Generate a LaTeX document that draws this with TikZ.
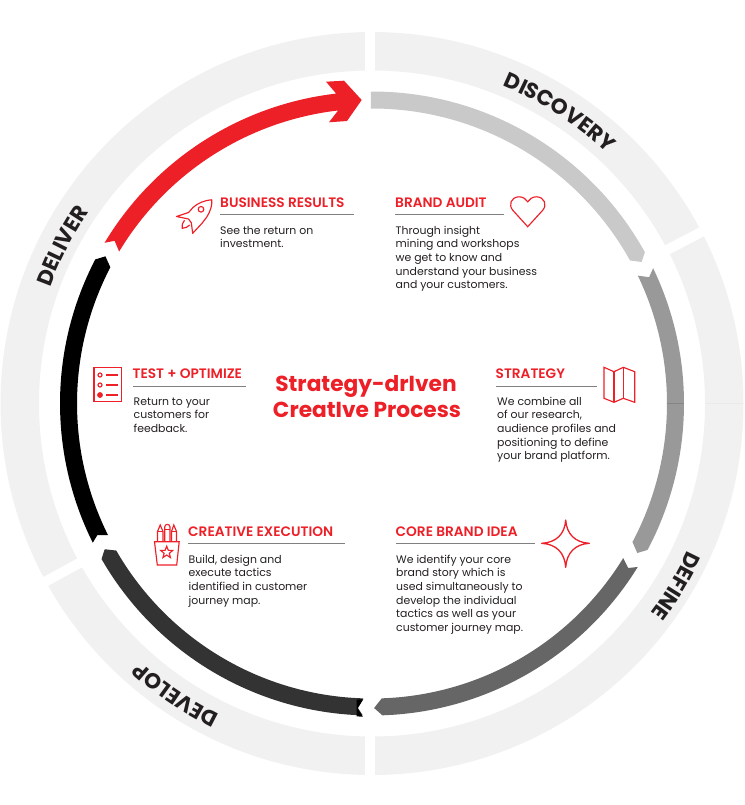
\documentclass[tikz,border=0pt]{standalone}
\usepackage{fontspec}
\usetikzlibrary{decorations.text}
\setmainfont{Poppins}
\newfontfamily\headf{Poppins SemiBold}
\newfontfamily\boldf{Poppins Bold}
\definecolor{brandred}{HTML}{ED1F27}
\definecolor{ringgray}{HTML}{F1F1F1}
\definecolor{inktext}{HTML}{231F20}
\definecolor{rulegray}{HTML}{808080}
\tikzset{
  x=1pt,y=1pt,
  headtxt/.style={anchor=base west,inner sep=0pt,text=brandred,font=\headf\fontsize{13.7}{15}\selectfont},
  bodytxt/.style={anchor=north west,inner sep=0pt,align=left,text=inktext,font=\fontsize{10.9}{13.6}\selectfont},
  titletxt/.style={anchor=base,inner sep=0pt,text=brandred,font=\boldf\fontsize{21.7}{26}\selectfont},
  rulerline/.style={draw=rulegray,line width=1pt},
  iconline/.style={draw=brandred,line width=1.15pt,line join=miter,fill=none},
  gapline/.style={draw=white,line width=10pt},
}
\newcommand{\bandseg}[5]{\fill[#1] (#2:312pt) arc[start angle=#2,end angle=#3,radius=312pt] -- (#5:304.5pt) -- (#3:295pt) arc[start angle=#3,end angle=#2,radius=295pt] -- (#4:304.5pt) -- cycle;}
\newcommand{\ringlabel}[4]{\path[decorate,decoration={text along path,text align={center},text={|\boldf\fontsize{21.5}{23}\selectfont\color{inktext}|#3}}] (#1:#4pt) arc[start angle=#1,end angle=#2,radius=#4pt];}
\begin{document}
\begin{tikzpicture}
\useasboundingbox (0,0) rectangle (744,-805);
% outer ring
\begin{scope}[shift={(372,-403.5)}]
  \draw[ringgray,line width=38.5pt] (0,0) circle[radius=352.25pt];
  \draw[gapline] (-2,-325) -- (-2,-380);
  \draw[gapline] (-2,325) -- (-2,380);
  \draw[gapline] (27.5:325pt) -- (27.5:385pt);
  \draw[gapline] (208.6:325pt) -- (208.6:385pt);
  \draw[draw=ringgray!97!black,line width=0.4pt] (0:333pt) -- (0:371pt);
  % ring labels
  \ringlabel{87}{27.5}{DISCOVERY}{343.5}
  \ringlabel{-1}{-61}{DEFINE}{348.5}
  \ringlabel{266}{206}{DEVELOP}{346.5}
  \ringlabel{183}{123}{DELIVER}{342}
  % inner bands
  \bandseg{black!21}{90.2}{29}{90.2}{27.7}
  \bandseg{black!40}{25.7}{-28}{24.5}{-29.4}
  \draw[black!48,line width=0.5pt] (0:295pt) -- (0:312pt);
  \bandseg{black!60}{-31.6}{-88.1}{-32.7}{-89.6}
  \bandseg{black!80}{-91.7}{-150.1}{-92.7}{-151.4}
  \bandseg{black}{-153.5}{-207.5}{-154.4}{-208.9}
  % red arrow
  \fill[brandred] (149:312pt) arc[start angle=149,end angle=96.6,radius=312pt]
     -- (-46,321.8) -- (-28,322.8) -- (-10.3,303.5) -- (-25,282.5) -- (-43,281.2)
     -- (96.6:295pt) arc[start angle=96.6,end angle=149,radius=295pt]
     -- (147.7:304.5pt) -- cycle;
\end{scope}
\fill[black] (356.7,-699.6) -- (363.3,-699.3) -- (357.7,-708.3) -- (362.7,-716.8) -- (356.7,-716.3) -- cycle;
% title
\node[titletxt] (title1) at (366,-391.5) {Strategy-drIven};
\node[titletxt] (title2) at (367,-417) {CreatIve Process};
% business results
\node[headtxt] (hbus) at (220,-207.5) {BUSINESS RESULTS};
\draw[rulerline] (220,-214.5) -- (354,-214.5);
\node[bodytxt] (bbus) at (220,-224.5) {\strut See the return on\\investment.};
% brand audit
\node[headtxt] (hbra) at (395,-207.5) {BRAND AUDIT};
\draw[rulerline] (395,-214.8) -- (504,-214.8);
\node[bodytxt] (bbra) at (395.5,-224.5) {\strut Through insight\\mining and workshops\\we get to know and\\understand your business\\and your customers.};
% strategy
\node[headtxt] (hstr) at (495.5,-378.5) {STRATEGY};
\draw[rulerline] (496,-386) -- (597,-386);
\node[bodytxt] (bstr) at (497,-395.5) {\strut We combine all\\of our research,\\audience profiles and\\positioning to define\\your brand platform.};
% test
\node[headtxt] (htes) at (132.5,-378.5) {TEST + OPTIMIZE};
\draw[rulerline] (133,-386) -- (246,-386);
\node[bodytxt] (btes) at (133.5,-395.5) {\strut Return to your\\customers for\\feedback.};
% creative
\node[headtxt] (hcre) at (188,-536.5) {CREATIVE EXECUTION};
\draw[rulerline] (188,-543.5) -- (345,-543.5);
\node[bodytxt] (bcre) at (188.5,-553.5) {\strut Build, design and\\execute tactics\\identified in customer\\journey map.};
% core
\node[headtxt] (hcor) at (395.5,-536.5) {CORE BRAND IDEA};
\draw[rulerline] (396,-543.5) -- (535,-543.5);
\node[bodytxt] (bcor) at (396,-553.5) {\strut We identify your core\\brand story which is\\used simultaneously to\\develop the individual\\tactics as well as your\\customer journey map.};
% icons (image pixels, y downward)
\begin{scope}[y=-1pt]
  % rocket
  \draw[iconline,line join=round] (211.7,199.8) .. controls (204,200.5) and (198,203) .. (193,207.5) -- (188.5,212.5) -- (176.5,216.5) -- (188.5,219) -- (191.3,222.7) -- (192.7,233.3) -- (202,223.3) -- (206.8,217) .. controls (210.5,211) and (212.3,205.5) .. (211.7,199.8) -- cycle;
  \draw[iconline] (201,209.3) circle[radius=2.8pt];
  \draw[iconline,line join=round] (184.5,220.3) .. controls (182.5,222.5) and (181.5,225.5) .. (182.2,228.3) .. controls (185,228.3) and (187.8,227) .. (189.7,225);
  % heart
  \draw[iconline] (527.7,226.7) -- (513,210.5) .. controls (508,205) and (511,197) .. (519,196.8) .. controls (523,196.8) and (526,199) .. (527.7,201.8) .. controls (529.5,199) and (532.5,196.8) .. (536.5,196.8) .. controls (544.5,197) and (547.5,205) .. (542.5,210.5) -- cycle;
  % map
  \draw[iconline] (604,367.3) -- (604,398.3) -- (614,402.3) -- (623.3,398.3) -- (634.7,402.3) -- (634.7,371.7) -- (623.3,367.3) -- (614,371.7) -- cycle;
  \draw[iconline] (614,371.7) -- (614,402.3) (623.3,367.3) -- (623.3,398.3);
  % star
  \draw[iconline,line width=1.3pt,line join=round] (565.7,520) .. controls (566.6,534) and (575,542.5) .. (589.3,543.3) .. controls (575,544.1) and (566.6,553) .. (565.7,567.3) .. controls (564.8,553) and (556.4,544.1) .. (541.7,543.3) .. controls (556.4,542.5) and (564.8,534) .. (565.7,520) -- cycle;
  % cup
  \draw[iconline] (154.5,541.7) -- (179.2,541.7) -- (176.7,565) -- (157.3,565) -- cycle;
  \draw[iconline] (157.5,541.7) -- (157.5,531.5) -- (160.2,525) -- (163,531.5) -- (163,541.7);
  \draw[iconline] (157.5,531.5) -- (163,531.5);
  \draw[iconline] (164.7,541.7) -- (164.7,527) .. controls (164.7,523.5) and (170,523.5) .. (170,527) -- (170,541.7);
  \draw[iconline] (164.7,529.5) -- (170,529.5);
  \draw[iconline] (171.5,541.7) -- (171.5,531.5) -- (173.8,525) -- (176.5,531.5) -- (176.5,541.7);
  \draw[iconline] (171.5,531.5) -- (176.5,531.5);
  \draw[iconline] (166.7,546.2) -- (168.3,550.3) -- (172.6,550.5) -- (169.3,553.3) -- (170.4,557.5) -- (166.7,555.1) -- (163,557.5) -- (164.1,553.3) -- (160.8,550.5) -- (165.1,550.3) -- cycle;
  % checklist
  \draw[iconline,line width=1.3pt] (94,367.7) rectangle (121.7,401.7);
  \draw[iconline] (100,375) circle[radius=2pt] (100,385) circle[radius=2pt];
  \fill[brandred] (100,395) circle[radius=2.9pt];
  \draw[iconline] (106,375) -- (118.3,375) (106,385) -- (118.3,385) (106,395) -- (118.3,395);
\end{scope}
\end{tikzpicture}
\end{document}
